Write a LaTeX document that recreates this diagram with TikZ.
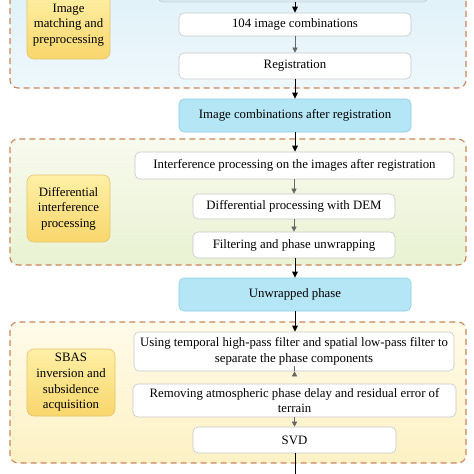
\documentclass[tikz,border=0pt]{standalone}
\usepackage{fontspec}
\setmainfont{Liberation Serif}
\usetikzlibrary{arrows.meta}
\definecolor{grpb}{HTML}{C9865A}
\definecolor{labb}{HTML}{E3C46E}
\definecolor{laby1}{HTML}{FFF0A6}
\definecolor{laby2}{HTML}{F8D66C}
\definecolor{cyanf}{HTML}{B4E6F6}
\definecolor{cyanb}{HTML}{8CCDE4}
\definecolor{topf}{HTML}{D6E8F0}
\definecolor{g1a}{HTML}{DCEFF8}
\definecolor{g1b}{HTML}{EEF8FC}
\definecolor{g2a}{HTML}{F8FAEE}
\definecolor{g2b}{HTML}{E9F2D2}
\definecolor{g3a}{HTML}{FFFBEA}
\definecolor{g3b}{HTML}{FDF1C4}
\tikzset{
  grp/.style={draw=grpb, dash pattern=on 6pt off 4pt, line width=1.1pt, rounded corners=8pt},
  txt/.style={font=\fontsize{12.8}{15.6}\selectfont, align=center, inner sep=0pt},
  lab/.style={txt, draw=labb, line width=0.6pt, rounded corners=7pt, top color=laby1, bottom color=laby2},
  wbox/.style={txt, draw=black!22, line width=0.6pt, fill=white, rounded corners=5pt},
  cbox/.style={txt, draw=cyanb, line width=0.6pt, fill=cyanf, rounded corners=5pt},
  mainarr/.style={-{Triangle[length=6pt,width=5.5pt]}, line width=1pt, black},
  subarr/.style={-{Triangle[length=5pt,width=5pt]}, line width=0.5pt, draw=black!60, fill=black!85}
}
\begin{document}
\begin{tikzpicture}[x=1pt,y=-1pt]
\useasboundingbox (0,0) rectangle (474,474);
\clip (0,0) rectangle (474,474);
% groups
\path[grp, top color=g1a, bottom color=g1b] (10,-40) rectangle (466,88);
\path[grp, top color=g2a, bottom color=g2b] (10,139) rectangle (466,265);
\path[grp, top color=g3a, bottom color=g3b] (10,322) rectangle (466,463);
\node[grp, minimum width=456pt, minimum height=128pt, inner sep=0pt, draw=none] (grp1) at (238,24) {};
\node[grp, minimum width=456pt, minimum height=126pt, inner sep=0pt, draw=none] (grp2) at (238,202) {};
\node[grp, minimum width=456pt, minimum height=141pt, inner sep=0pt, draw=none] (grp3) at (238,392.5) {};
% label boxes
\node[lab, minimum width=83pt, minimum height=68pt] (lab1) at (68.5,25) {Image\\matching and\\preprocessing};
\node[lab, minimum width=83pt, minimum height=67pt] (lab2) at (68.5,208.5) {Differential\\interference\\processing};
\node[lab, minimum width=88pt, minimum height=67pt] (lab3) at (71,382.5) {SBAS\\inversion and\\subsidence\\acquisition};
% boxes
\node[txt, draw=black!25, fill=topf, rounded corners=5pt, minimum width=270pt, minimum height=32pt] (top) at (293,-14) {};
\node[wbox, minimum width=232pt, minimum height=23pt] (c104) at (295,24.5) {104 image combinations};
\node[wbox, minimum width=232pt, minimum height=26pt] (reg) at (295,66) {Registration};
\node[cbox, minimum width=232pt, minimum height=33pt] (icar) at (295,115.5) {Image combinations after registration};
\node[wbox, minimum width=319pt, minimum height=27pt] (intf) at (294.5,165.5) {Interference processing on the images after registration};
\node[wbox, minimum width=202pt, minimum height=25pt] (dem) at (294,206.5) {Differential processing with DEM};
\node[wbox, minimum width=202pt, minimum height=26pt] (filt) at (294,245) {Filtering and phase unwrapping};
\node[cbox, minimum width=232pt, minimum height=33pt] (unw) at (295,294.5) {Unwrapped phase};
\node[wbox, minimum width=320pt, minimum height=39pt] (temp) at (294,351.5) {Using temporal high-pass filter and spatial low-pass filter to\\separate the phase components};
\node[wbox, minimum width=323pt, minimum height=33pt] (atm) at (294.5,400.5) {Removing atmospheric phase delay and residual error of\\terrain};
\node[wbox, minimum width=203pt, minimum height=26pt] (svd) at (294.5,440) {SVD};
\coordinate (out) at (295,482);
% arrows
\draw[mainarr] (top.south -| c104.north) -- (c104.north);
\draw[subarr] (c104) -- (reg);
\draw[mainarr] (reg) -- (icar);
\draw[mainarr] (icar.south) -- (icar.south |- intf.north);
\draw[subarr] (intf.south -| dem.north) -- (dem.north);
\draw[subarr] (dem) -- (filt);
\draw[mainarr] (filt.south -| unw.north) -- (unw.north);
\draw[mainarr] (unw.south) -- (unw.south |- temp.north);
\draw[subarr] (temp.south -| svd.north) -- (temp.south -| svd.north |- atm.north);
\draw[subarr] (atm.south -| svd.north) -- (svd.north);
\draw[mainarr] (svd.south -| unw.south) -- (out);
\end{tikzpicture}
\end{document}
